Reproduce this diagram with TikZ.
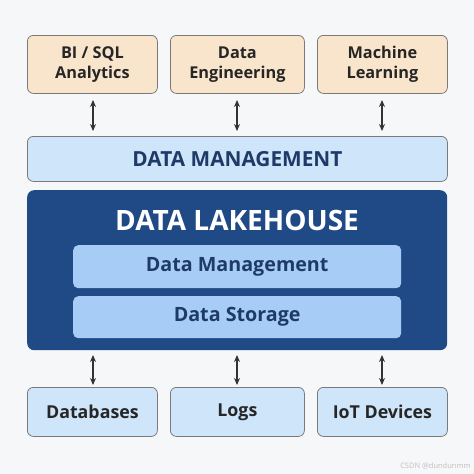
\documentclass[tikz,border=0pt]{standalone}
\usepackage{fontspec}
\setmainfont{Open Sans}
\usetikzlibrary{arrows.meta}
\definecolor{bg}{HTML}{F6F7F9}
\definecolor{tan}{HTML}{F8E5CB}
\definecolor{lblue}{HTML}{CFE5FA}
\definecolor{navy}{HTML}{1F4A86}
\definecolor{inner}{HTML}{A7CDF6}
\definecolor{ink}{HTML}{1E3B68}
\definecolor{edge}{HTML}{7A7A7A}
\tikzset{
  box/.style={draw=edge, line width=0.8pt, rounded corners=6pt, anchor=north west, inner sep=0pt, align=center},
  topbox/.style={box, fill=tan, minimum height=58pt, font=\fontsize{16.3}{20}\selectfont\bfseries, text=black!85},
  botbox/.style={box, fill=lblue, minimum height=49pt, font=\fontsize{17.8}{20}\selectfont\bfseries, text=black!85},
  innerbox/.style={draw=none, fill=inner, rounded corners=5pt, anchor=north west, inner sep=0pt, font=\fontsize{19.7}{22}\selectfont\bfseries, text=ink},
  dbl/.style={{Stealth[length=7pt,width=6pt]}-{Stealth[length=7pt,width=6pt]}, line width=1.2pt, draw=black!80}
}
\begin{document}
\begin{tikzpicture}[x=1pt,y=-1pt]
\fill[bg] (0,0) rectangle (474,474);
\useasboundingbox (0,0) rectangle (474,474);
% top boxes
\node[topbox, minimum width=130pt] (bi) at (27,35) {BI / SQL\\Analytics};
\node[topbox, minimum width=134pt] (de) at (170,35) {Data\\Engineering};
\node[topbox, minimum width=130pt] (ml) at (317,35) {Machine\\Learning};
% data management bar
\node[box, fill=lblue, minimum width=420pt, minimum height=45pt, font=\fontsize{20.8}{24}\selectfont\bfseries, text=ink] (dm) at (27,136) {DATA MANAGEMENT};
% lakehouse
\node[draw=none, fill=navy, rounded corners=7pt, anchor=north west, minimum width=420pt, minimum height=160pt, inner sep=0pt] (lh) at (27,190) {};
\node[font=\fontsize{28}{31}\selectfont\bfseries, text=white] (lht) at (237,220) {DATA LAKEHOUSE};
\node[innerbox, minimum width=328pt, minimum height=43pt] (im) at (73,245) {Data Management};
\node[innerbox, minimum width=328pt, minimum height=42pt] (is) at (73,296) {Data Storage};
% bottom boxes
\node[botbox, minimum width=130pt] (db) at (27,387) {Databases};
\node[botbox, minimum width=134pt] (lg) at (170,387) {Logs};
\node[botbox, minimum width=130pt] (iot) at (317,387) {IoT Devices};
% arrows
\coordinate (a1) at (93,100); \coordinate (b1) at (93,131);
\coordinate (a2) at (237,100); \coordinate (b2) at (237,131);
\coordinate (a3) at (382,100); \coordinate (b3) at (382,131);
\draw[dbl] (a1) -- (b1);
\draw[dbl] (a2) -- (b2);
\draw[dbl] (a3) -- (b3);
\coordinate (c1) at (93,355); \coordinate (d1) at (93,385);
\coordinate (c2) at (237,355); \coordinate (d2) at (237,385);
\coordinate (c3) at (382,355); \coordinate (d3) at (382,385);
\draw[dbl] (c1) -- (d1);
\draw[dbl] (c2) -- (d2);
\draw[dbl] (c3) -- (d3);
% watermark
\node[anchor=east, font=\fontsize{7.5}{9}\selectfont, text=black!25] (wm) at (474,466) {CSDN @dundunmm};
\end{tikzpicture}
\end{document}
